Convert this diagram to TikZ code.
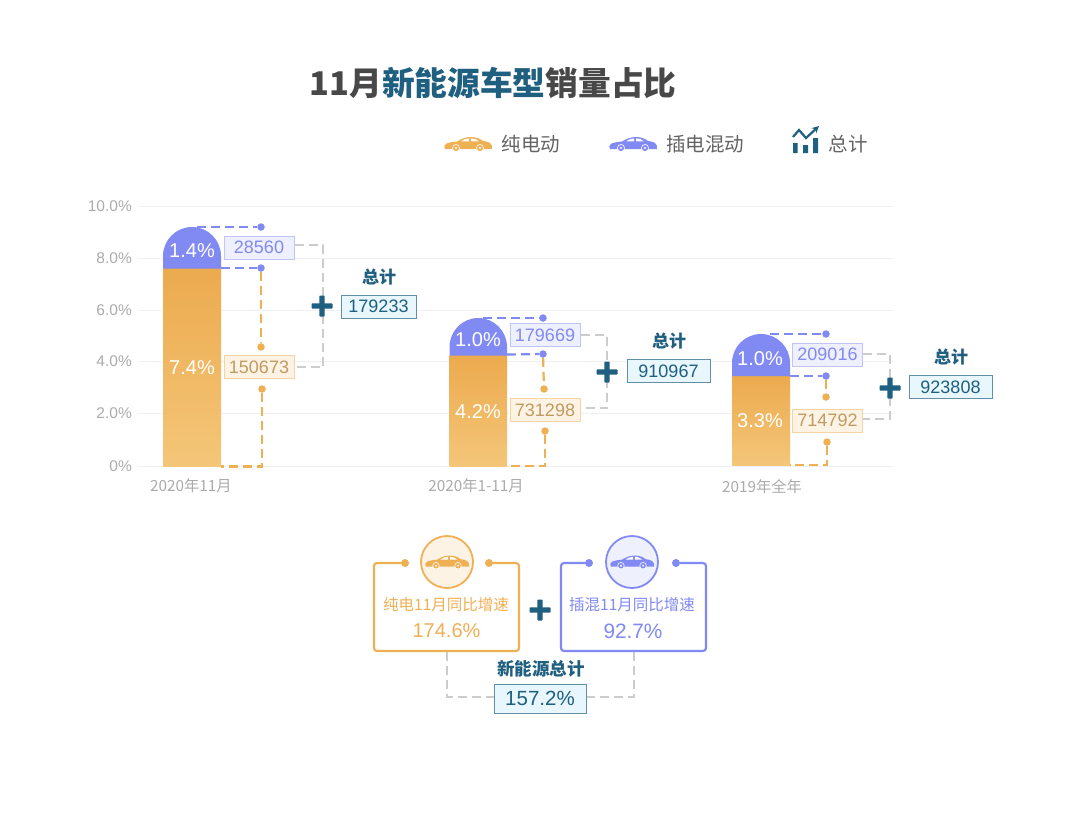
\documentclass[tikz,border=0pt]{standalone}
\usepackage{fontspec}
\setmainfont{Noto Sans CJK SC}
\newfontfamily\numfont{Liberation Sans}
\usetikzlibrary{arrows.meta}
\definecolor{orangeC}{HTML}{EFB054}
\definecolor{orangeTop}{HTML}{ECAA4E}
\definecolor{orangeBot}{HTML}{F4C679}
\definecolor{purpleC}{HTML}{8189F2}
\definecolor{tealC}{HTML}{1F5F80}
\definecolor{greyD}{HTML}{CCCCCC}
\definecolor{gridC}{HTML}{F0F0F0}
\definecolor{axisC}{HTML}{ABABAB}
\definecolor{titleC}{HTML}{484848}
\definecolor{totalF}{HTML}{E8F6FD}
\definecolor{oText}{HTML}{C09A5F}
\tikzset{
  x=1pt,y=-1pt,
  gridline/.style={gridC,line width=1pt},
  axislabel/.style={text=axisC,font=\numfont\fontsize{15.5}{15.5}\selectfont,inner sep=0pt},
  xlabel/.style={text=axisC,font=\fontsize{15.3}{15.3}\selectfont,inner sep=0pt},
  pctlabel/.style={text=white,font=\numfont\fontsize{20}{20}\selectfont,inner sep=0pt},
  purplebox/.style={draw=purpleC!50,fill=purpleC!13,text=purpleC,line width=1pt,minimum width=70pt,minimum height=23pt,inner sep=0pt,font=\numfont\fontsize{18}{18}\selectfont},
  orangebox/.style={draw=orangeC!55,fill=orangeC!15,text=oText,line width=1pt,minimum width=70pt,minimum height=23pt,inner sep=0pt,font=\numfont\fontsize{18}{18}\selectfont},
  totalbox/.style={draw=tealC!70,fill=totalF,text=tealC,line width=1pt,minimum height=23pt,inner sep=0pt,font=\numfont\fontsize{18}{18}\selectfont},
  totaltitle/.style={text=tealC,inner sep=0pt,font=\bfseries\fontsize{17}{17}\selectfont},
  purpledash/.style={purpleC,line width=2.2pt,dash pattern=on 9pt off 5pt},
  orangedash/.style={orangeC,line width=2.2pt,dash pattern=on 9pt off 5pt},
  greydash/.style={greyD,line width=2.2pt,dash pattern=on 9pt off 5pt},
  pdot/.style={circle,fill=purpleC,minimum size=7.5pt,inner sep=0pt},
  odot/.style={circle,fill=orangeC,minimum size=7.5pt,inner sep=0pt},
  legendtext/.style={text=titleC!85,inner sep=0pt,font=\fontsize{19.5}{19.5}\selectfont},
  pics/carshape/.style={code={
    \fill[#1] (-23,5) .. controls (-25,1) and (-23,-1.5) .. (-11,-2.5)
      .. controls (-6,-5.5) and (-2,-7) .. (3,-7)
      .. controls (8,-7) and (12,-5.5) .. (15,-3)
      .. controls (21,-2.5) and (25,-0.5) .. (24,5) -- cycle;
    \fill[white] (-7,-2.6) .. controls (-4,-4.6) and (-2,-5.6) .. (1,-5.6) -- (1,-2.6) -- cycle;
    \fill[white] (3,-2.6) -- (3,-5.6) .. controls (7,-5.6) and (9,-4.4) .. (11,-2.6) -- cycle;
    \fill[white] (-12,4) circle (3.9);
    \fill[white] (12,4) circle (3.9);
    \fill[#1] (-12,4) circle (3.1);
    \fill[#1] (12,4) circle (3.1);
    \fill[white] (-12,4) circle (1.2);
    \fill[white] (12,4) circle (1.2);
  }},
  pics/plussign/.style={code={
    \fill[tealC,rounded corners=0.8pt] (-10.5,-2.7) rectangle (10.5,2.7);
    \fill[tealC,rounded corners=0.8pt] (-2.7,-10.5) rectangle (2.7,10.5);
  }}
}
\begin{document}
\begin{tikzpicture}
\useasboundingbox (0,0) rectangle (1080,817);
\fill[white] (0,0) rectangle (1080,817);

% title
\node[inner sep=0pt,font=\bfseries\fontsize{32.7}{33}\selectfont] (title) at (493,83)
  {\textcolor{titleC}{11月}\textcolor{tealC}{新能源车型}\textcolor{titleC}{销量占比}};

% legend
\pic at (468,144) {carshape=orangeC};
\node[legendtext] (legA) at (531,144) {纯电动};
\pic at (633,144) {carshape=purpleC};
\node[legendtext] (legB) at (705,144) {插电混动};
\fill[tealC] (793,143) rectangle (797.5,153) (803,145) rectangle (808,153) (813,138) rectangle (818,153);
\draw[tealC,line width=2.2pt,-{Stealth[length=7pt,width=7pt]}] (793,137) -- (799,130) -- (806,138) -- (819,126);
\node[legendtext] (legC) at (848,144) {总计};

% grid
\foreach \yy/\lab in {206/10.0\%,258/8.0\%,310/6.0\%,361/4.0\%,413/2.0\%,466/0\%}{
  \draw[gridline] (138,\yy) -- (893,\yy);
  \node[axislabel,anchor=east] at (132,\yy) {\lab};
}
\node[xlabel] (xa) at (191,486) {2020年11月};
\node[xlabel] (xb) at (476,486) {2020年1-11月};
\node[xlabel] (xc) at (762,487) {2019年全年};

% bars
\shade[top color=orangeTop,bottom color=orangeBot] (163,268) rectangle (221,466);
\fill[purpleC] (163,268.5) -- (163,256) arc[start angle=180,end angle=0,x radius=29,y radius=-29] -- (221,268.5) -- cycle;
\shade[top color=orangeTop,bottom color=orangeBot] (449.5,355) rectangle (507,466);
\fill[purpleC] (449.5,355.5) -- (449.5,347) arc[start angle=180,end angle=0,x radius=28.75,y radius=-29] -- (507,355.5) -- cycle;
\shade[top color=orangeTop,bottom color=orangeBot] (732,375.5) rectangle (790,465);
\fill[purpleC] (732,376) -- (732,363) arc[start angle=180,end angle=0,x radius=29,y radius=-29] -- (790,376) -- cycle;

\node[pctlabel] (p1a) at (192,251) {1.4\%};
\node[pctlabel] (p1b) at (192,368) {7.4\%};
\node[pctlabel] (p2a) at (478,340) {1.0\%};
\node[pctlabel] (p2b) at (478,412) {4.2\%};
\node[pctlabel] (p3a) at (760,359) {1.0\%};
\node[pctlabel] (p3b) at (760,421) {3.3\%};

% ---- group 1
\coordinate (a1) at (197,227); \coordinate (a2) at (221,268); \coordinate (a3) at (221,466);
\node[pdot] (d1) at (261,227) {};
\node[pdot] (d2) at (261,268) {};
\node[odot] (d3) at (261,347) {};
\node[odot] (d4) at (262,389) {};
\coordinate (e1) at (262,466.5);
\node[purplebox] (v1a) at (259,247.5) {28560};
\node[orangebox] (v1b) at (259,367) {150673};
\node[totalbox,minimum width=75pt] (t1) at (378.5,306.5) {179233};
\node[totaltitle] (tt1) at (379,277) {总计};
\draw[purpledash] (a1) -- (d1);
\draw[orangedash] (d2) -- (d3);
\draw[purpledash] (a2) -- (d2);
\draw[orangedash] (d4) -- (e1) -- (a3 |- e1);
\draw[greydash] (v1a.east |- 0,245) -- (323,245) -- (323,367) -- (v1b.east);
\pic at (322,306) {plussign};

% ---- group 2
\coordinate (b1) at (483,318); \coordinate (b2) at (507,354.5); \coordinate (b3) at (507,466);
\node[pdot] (f1) at (543,318) {};
\node[pdot] (f2) at (543,354) {};
\node[odot] (f3) at (544,389) {};
\node[odot] (f4) at (545,431) {};
\coordinate (g1) at (545,466);
\node[purplebox] (v2a) at (545,335) {179669};
\node[orangebox] (v2b) at (545,410) {731298};
\node[totalbox,minimum width=83pt] (t2) at (668.5,371) {910967};
\node[totaltitle] (tt2) at (669,341) {总计};
\draw[purpledash] (b1) -- (f1);
\draw[orangedash] (f2) -- (f3);
\draw[purpledash] (b2) -- (f2);
\draw[orangedash] (f4) -- (g1) -- (b3);
\draw[greydash] (v2a.east) -- (607,335) -- (607,408) -- (v2b.east |- 0,408);
\pic at (607,372) {plussign};

% ---- group 3
\coordinate (c1) at (770,334); \coordinate (c2) at (790,376); \coordinate (c3) at (790,465);
\node[pdot] (h1) at (826,334) {};
\node[pdot] (h2) at (826,376) {};
\node[odot] (h3) at (826,397) {};
\node[odot] (h4) at (827,442) {};
\coordinate (i1) at (827,465);
\node[purplebox] (v3a) at (827.5,354.5) {209016};
\node[orangebox] (v3b) at (827.5,420.5) {714792};
\node[totalbox,minimum width=83pt] (t3) at (950.5,387) {923808};
\node[totaltitle] (tt3) at (951,357) {总计};
\draw[purpledash] (c1) -- (h1);
\draw[orangedash] (h2) -- (h3);
\draw[purpledash] (c2) -- (h2);
\draw[orangedash] (h4) -- (i1) -- (c3);
\draw[greydash] (v3a.east |- 0,354) -- (890,354) -- (890,419) -- (v3b.east |- 0,419);
\pic at (890,388) {plussign};

% ---- bottom
\node[odot,minimum size=8pt] (ld1) at (405,563) {};
\node[odot,minimum size=8pt] (ld2) at (489,563) {};
\node[pdot,minimum size=8pt] (rd1) at (589,563) {};
\node[pdot,minimum size=8pt] (rd2) at (676,563) {};
\draw[orangeC,line width=2.2pt,rounded corners=3pt] (ld1) -- (374,563) -- (374,651) -- (519,651) -- (519,563) -- (ld2);
\draw[purpleC,line width=2.2pt,rounded corners=3pt] (rd1) -- (561,563) -- (561,651) -- (706,651) -- (706,563) -- (rd2);
\node[circle,draw=orangeC,fill=orangeC!15,line width=1.8pt,minimum size=52pt,inner sep=0pt] (lc) at (447,562) {};
\node[circle,draw=purpleC,fill=purpleC!13,line width=1.8pt,minimum size=52pt,inner sep=0pt] (rc) at (632,562) {};
\pic[scale=0.92] at (447,562) {carshape=orangeC};
\pic[scale=0.92] at (632,562) {carshape=purpleC};
\node[inner sep=0pt,text=orangeC,font=\fontsize{15.5}{15.5}\selectfont] (lt1) at (446,605) {纯电11月同比增速};
\node[inner sep=0pt,text=orangeC,font=\numfont\fontsize{20}{20}\selectfont] (lt2) at (446.5,631) {174.6\%};
\node[inner sep=0pt,text=purpleC,font=\fontsize{15.5}{15.5}\selectfont] (rt1) at (632,605) {插混11月同比增速};
\node[inner sep=0pt,text=purpleC,font=\numfont\fontsize{20.8}{20.8}\selectfont] (rt2) at (633,631) {92.7\%};
\pic at (540,610) {plussign};
\node[totaltitle,font=\bfseries\fontsize{17.5}{17.5}\selectfont] (tt4) at (541,669) {新能源总计};
\node[totalbox,minimum width=92pt,minimum height=29pt,font=\numfont\fontsize{20.5}{20.5}\selectfont] (t4) at (540,698.5) {157.2\%};
\draw[greydash] (447,652) -- (447,697) -- (t4.west |- 0,697);
\draw[greydash] (634,652) -- (634,697) -- (t4.east |- 0,697);
\end{tikzpicture}
\end{document}
